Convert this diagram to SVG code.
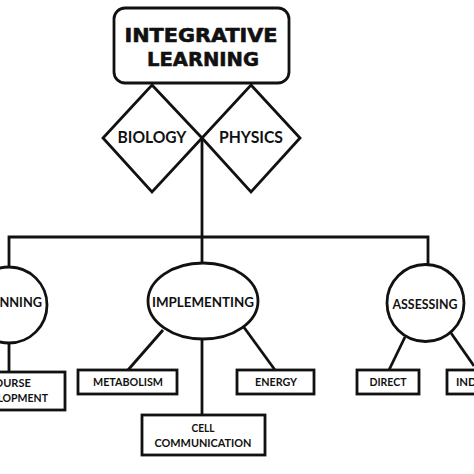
<svg xmlns="http://www.w3.org/2000/svg" width="474" height="474" viewBox="0 0 474 474">
<style>
  .s{fill:#fff;stroke:#111;stroke-width:2.8}
  .c line,.c polyline{stroke:#111;stroke-width:2.8;fill:none}
  .t{font-family:Lato,"Open Sans","Liberation Sans",sans-serif;font-weight:bold;fill:#111;text-anchor:middle}
  .ttl{font-family:"DejaVu Sans","Liberation Sans",sans-serif;font-weight:bold;font-size:19.5px;fill:#111;text-anchor:middle;stroke:#111;stroke-width:0.6}
</style>
<rect width="474" height="474" fill="#fff"/>
<g class="c" id="connectors">
  <line x1="202" y1="137" x2="202" y2="263"/>
  <polyline points="9,267 9,237 428,237 428,265"/>
  <line x1="9" y1="343" x2="9" y2="372"/>
  <line x1="163" y1="330" x2="128" y2="370"/>
  <line x1="243" y1="326" x2="275" y2="370"/>
  <line x1="202" y1="339" x2="202" y2="415"/>
  <line x1="405" y1="337" x2="389" y2="370"/>
  <line x1="451" y1="333" x2="474" y2="366"/>
</g>
<g id="integrative">
  <rect class="s" x="114" y="8" width="175" height="75" rx="11"/>
  <text class="ttl" x="201" y="42" textLength="153" lengthAdjust="spacingAndGlyphs">INTEGRATIVE</text>
  <text class="ttl" x="203" y="66" textLength="112" lengthAdjust="spacingAndGlyphs">LEARNING</text>
</g>
<g id="biology">
  <polygon class="s" points="152,85 202,138 152,192 103,138"/>
  <text class="t" x="152" y="143" font-size="17" textLength="69" lengthAdjust="spacingAndGlyphs">BIOLOGY</text>
</g>
<g id="physics">
  <polygon class="s" points="251,85 300,138 251,192 202,138"/>
  <text class="t" x="251" y="143" font-size="17" textLength="64" lengthAdjust="spacingAndGlyphs">PHYSICS</text>
</g>
<g id="planning">
  <circle class="s" cx="9" cy="305" r="38"/>
  <text class="t" x="9" y="307" font-size="13" textLength="66" lengthAdjust="spacingAndGlyphs">PLANNING</text>
</g>
<g id="implementing">
  <ellipse class="s" cx="203" cy="301" rx="55" ry="38"/>
  <text class="t" x="203" y="307" font-size="13" textLength="102" lengthAdjust="spacingAndGlyphs">IMPLEMENTING</text>
</g>
<g id="assessing">
  <circle class="s" cx="425.5" cy="303" r="38.5"/>
  <text class="t" x="425" y="309" font-size="13" textLength="65" lengthAdjust="spacingAndGlyphs">ASSESSING</text>
</g>
<g id="course-development">
  <rect class="s" x="-47" y="372" width="112" height="38"/>
  <text class="t" x="9" y="387" font-size="11">COURSE</text>
  <text class="t" x="9" y="402" font-size="11" textLength="78" lengthAdjust="spacingAndGlyphs">DEVELOPMENT</text>
</g>
<g id="metabolism">
  <rect class="s" x="78" y="370" width="99" height="24"/>
  <text class="t" x="128" y="386" font-size="11" textLength="70" lengthAdjust="spacingAndGlyphs">METABOLISM</text>
</g>
<g id="energy">
  <rect class="s" x="237" y="370" width="77" height="24"/>
  <text class="t" x="276" y="386" font-size="11" textLength="42" lengthAdjust="spacingAndGlyphs">ENERGY</text>
</g>
<g id="cell-communication">
  <rect class="s" x="142" y="415" width="123" height="40"/>
  <text class="t" x="203" y="432" font-size="11" textLength="23" lengthAdjust="spacingAndGlyphs">CELL</text>
  <text class="t" x="203" y="447" font-size="11" textLength="97" lengthAdjust="spacingAndGlyphs">COMMUNICATION</text>
</g>
<g id="direct">
  <rect class="s" x="357" y="370" width="62" height="24"/>
  <text class="t" x="388" y="386" font-size="11" textLength="37" lengthAdjust="spacingAndGlyphs">DIRECT</text>
</g>
<g id="indirect">
  <rect class="s" x="447" y="370" width="70" height="24"/>
  <text class="t" x="482" y="386" font-size="11" textLength="52" lengthAdjust="spacingAndGlyphs">INDIRECT</text>
</g>
</svg>
